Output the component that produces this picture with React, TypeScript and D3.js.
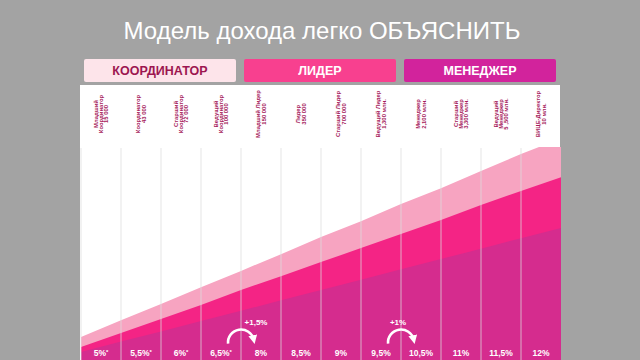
import React from "react";
import * as d3 from "d3";

const title = "Модель дохода легко ОБЪЯСНИТЬ";
const groups = ["КООРДИНАТОР", "ЛИДЕР", "МЕНЕДЖЕР"];
const levelLabels: string[][] = [
  ["Младший", "Координатор", "15 000"],
  ["Координатор", "43 000"],
  ["Старший", "Координатор", "72 000"],
  ["Ведущий", "Координатор", "100 000"],
  ["Младший Лидер", "150 000"],
  ["Лидер", "350 000"],
  ["Старший Лидер", "700 000"],
  ["Ведущий Лидер", "1,300 млн."],
  ["Менеджер", "2,100 млн."],
  ["Старший", "Менеджер", "3,300 млн."],
  ["Ведущий", "Менеджер", "5 ,500 млн."],
  ["ВИЦЕ-Директор", "10 млн."],
];
const rates = ["5%", "5,5%", "6%", "6,5%", "8%", "8,5%", "9%", "9,5%", "10,5%", "11%", "11,5%", "12%"];
const starred = [true, true, true, true, false, false, false, false, false, false, false, false];

// layer tops (percent of panel height) at column boundaries
const lightX = [0, 1, 2, 3, 4, 5, 6, 7, 8, 9, 10, 11, 11.45, 12];
const lightTop = [8.4, 14.5, 20.4, 26.5, 32.4, 38.5, 44.7, 50.5, 56.7, 62.5, 68.7, 74.9, 77.5, 77.5];
const hotX = [0, 1, 2, 3, 4, 5, 6, 7, 8, 9, 10, 11, 12];
const hotTop = [4.7, 9.8, 14.9, 20.0, 25.5, 30.5, 35.6, 40.7, 45.8, 50.9, 56.4, 61.5, 66.5];
const magX = [0, 1, 2, 3, 4, 5, 6, 7, 8, 9, 10, 11, 12];
const magTop = [2.9, 6.7, 10.4, 14.2, 17.9, 21.7, 25.5, 29.2, 33.0, 36.7, 40.5, 44.3, 48.0];

const jumps = [
  { at: 4, label: "+1,5%" },
  { at: 8, label: "+1%" },
];

const W = 640, H = 360;
const panel = { left: 81, right: 561, top: 85, bottom: 360 };
const font = "'Liberation Sans', Arial, sans-serif";

export default function App() {
  const x = d3.scaleLinear().domain([0, 12]).range([panel.left, panel.right]);
  const y = d3.scaleLinear().domain([0, 100]).range([panel.bottom, panel.top]);
  const band = d3.scaleBand<number>().domain(d3.range(12)).range([panel.left, panel.right]);
  const gBand = d3.scaleBand<number>().domain(d3.range(3)).range([panel.left + 3, panel.right - 5]).paddingInner(0.05);

  const mkArea = (xs: number[], ys: number[]) =>
    d3.area<number>().x((_, i) => x(xs[i])).y0(y(0)).y1((d) => y(d))(ys) || "";

  const groupFill = ["#fde4ea", "#f8408f", "#d2239c"];
  const groupText = ["#9c1650", "#ffffff", "#ffffff"];

  return (
    <svg width={W} height={H} style={{ position: "fixed", left: 0, top: 0, display: "block" }} fontFamily={font}>
      <defs>
        <marker id="ah" viewBox="0 0 10 10" refX="5" refY="5" markerWidth="3.4" markerHeight="3.4" orient="auto">
          <path d="M0,0 L10,5 L0,10 z" fill="#fff" />
        </marker>
      </defs>
      <rect width={W} height={H} fill="#a3a3a3" />
      <text x={322} y={39} textAnchor="middle" fill="#fff" fontSize={24}>{title}</text>

      {groups.map((g, i) => (
        <g key={g}>
          <rect x={gBand(i)} y={59} width={gBand.bandwidth()} height={23} rx={2} fill={groupFill[i]} />
          <text x={(gBand(i) as number) + gBand.bandwidth() / 2} y={75} textAnchor="middle" fontSize={12.5} fontWeight="bold" fill={groupText[i]}>{g}</text>
        </g>
      ))}

      <rect x={panel.left - 1} y={panel.top} width={panel.right - panel.left} height={panel.bottom - panel.top} fill="#ffffff" />
      <path d={mkArea(lightX, lightTop)} fill="#f7a4c1" />
      <path d={mkArea(hotX, hotTop)} fill="#f42485" />
      <path d={mkArea(magX, magTop)} fill="#d52c8e" />

      {d3.range(0, 12).map((i) => (
        <line key={i} x1={x(i)} x2={x(i)} y1={148} y2={H} stroke="#dcdcdc" strokeOpacity={0.75} strokeWidth={1} />
      ))}

      {levelLabels.map((lines, i) => {
        const cx = (band(i) as number) + band.bandwidth() / 2;
        const lh = 5.4;
        const off = -((lines.length - 1) * lh) / 2;
        return (
          <text key={i} transform={`translate(${cx},${114}) rotate(-90)`} textAnchor="middle" fontSize={5.9} fontWeight="bold" fill="#a5185a">
            {lines.map((l, j) => (
              <tspan key={j} x={0} y={off + j * lh + 2}>{l}</tspan>
            ))}
          </text>
        );
      })}

      {rates.map((r, i) => {
        const cx = (band(i) as number) + band.bandwidth() / 2;
        return (
          <text key={r} x={cx} y={356} textAnchor="middle" fontSize={8.5} fontWeight="bold" fill="#fff">
            {r}
            {starred[i] && <tspan fontSize={6} dy={-2}>*</tspan>}
          </text>
        );
      })}

      {jumps.map((j) => {
        const cx = x(j.at);
        const p = d3.path();
        p.arc(cx, 342.5, 13, Math.PI * 0.97, Math.PI * 1.93, false);
        return (
          <g key={j.label}>
            <path d={p.toString()} fill="none" stroke="#fff" strokeWidth={2.6} markerEnd="url(#ah)" />
            <text x={cx + (j.at === 4 ? 15 : -3)} y={325} textAnchor="middle" fontSize={8} fontWeight="bold" fill="#fff">{j.label}</text>
          </g>
        );
      })}
    </svg>
  );
}
